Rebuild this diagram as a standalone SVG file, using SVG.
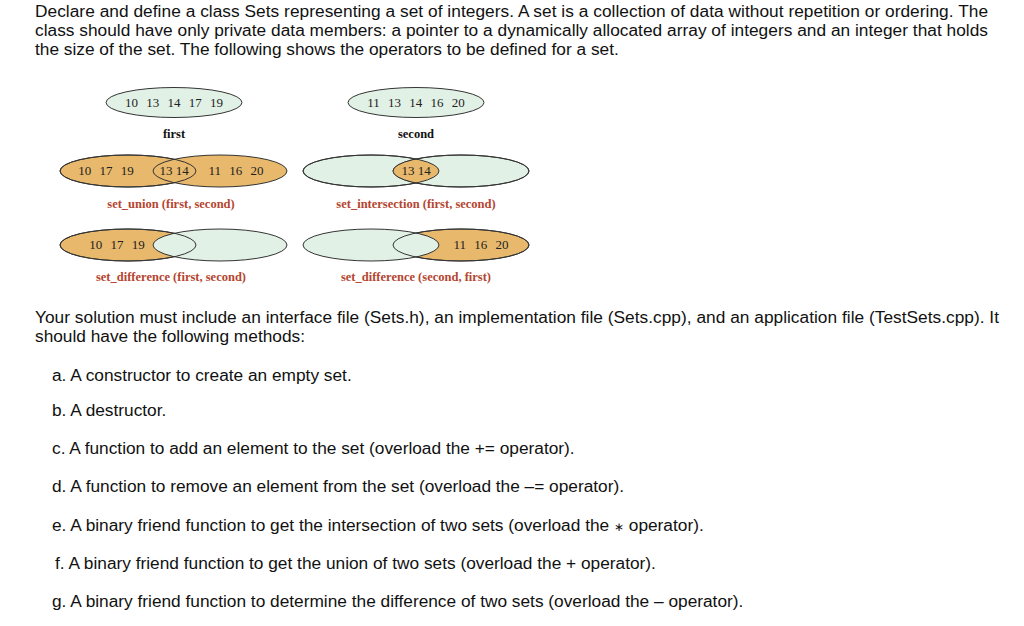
<svg xmlns="http://www.w3.org/2000/svg" width="1024" height="626" viewBox="0 0 1024 626">
<style>
.t{font-family:"Liberation Sans",Arial,sans-serif;font-size:17.3px;fill:#111}
.n{font-family:"Liberation Serif","Times New Roman",serif;font-size:13px;fill:#222;text-anchor:middle}
.lb{font-family:"Liberation Serif","Times New Roman",serif;font-size:12.5px;font-weight:bold;text-anchor:middle}
.g{fill:#e2f1e6;stroke:#333;stroke-width:1}
.o{fill:#e8b96c;stroke:#333;stroke-width:1}
.s{fill:none;stroke:#333;stroke-width:1}
</style>
<defs>
<clipPath id="cI"><ellipse cx="371" cy="171" rx="68" ry="16"/></clipPath>
</defs>
<rect width="1024" height="626" fill="#fff"/>
<text class="t" x="35" y="17" textLength="953">Declare and define a class Sets representing a set of integers. A set is a collection of data without repetition or ordering. The</text>
<text class="t" x="35" y="36" textLength="953">class should have only private data members: a pointer to a dynamically allocated array of integers and an integer that holds</text>
<text class="t" x="35" y="55">the size of the set. The following shows the operators to be defined for a set.</text>
<g id="first"><ellipse class="g" cx="174" cy="102.5" rx="68" ry="15"/><text class="n" x="174" y="107" word-spacing="5">10 13 14 17 19</text><text class="lb" x="174" y="138" fill="#111">first</text></g>
<g id="second"><ellipse class="g" cx="416" cy="102.5" rx="68" ry="15"/><text class="n" x="416" y="107" word-spacing="5">11 13 14 16 20</text><text class="lb" x="416" y="138" fill="#111">second</text></g>
<g id="union"><ellipse class="o" cx="128" cy="171" rx="68" ry="16"/><ellipse class="o" cx="220" cy="171" rx="67" ry="16"/><ellipse class="s" cx="128" cy="171" rx="68" ry="16"/>
<text class="n" x="106" y="175" word-spacing="5">10 17 19</text><text class="n" x="174" y="175">13 14</text><text class="n" x="236" y="175" word-spacing="5">11 16 20</text>
<text class="lb" x="171" y="208" fill="#b5452f">set_union (first, second)</text></g>
<g id="intersection"><ellipse class="g" cx="371" cy="171" rx="68" ry="16"/><ellipse class="g" cx="461" cy="171" rx="68" ry="16"/>
<ellipse fill="#e8b96c" cx="461" cy="171" rx="68" ry="16" clip-path="url(#cI)"/><ellipse class="s" cx="371" cy="171" rx="68" ry="16"/><ellipse class="s" cx="461" cy="171" rx="68" ry="16"/>
<text class="n" x="416" y="175">13 14</text><text class="lb" x="416" y="208" fill="#b5452f">set_intersection (first, second)</text></g>
<g id="diff1"><ellipse class="o" cx="128" cy="245" rx="68" ry="16"/><ellipse class="g" cx="220" cy="245" rx="67" ry="16"/><ellipse class="s" cx="128" cy="245" rx="68" ry="16"/>
<text class="n" x="117" y="249" word-spacing="5">10 17 19</text><text class="lb" x="171" y="281" fill="#b5452f">set_difference (first, second)</text></g>
<g id="diff2"><ellipse class="o" cx="461" cy="245" rx="68" ry="16"/><ellipse class="g" cx="371" cy="245" rx="68" ry="16"/><ellipse class="s" cx="461" cy="245" rx="68" ry="16"/>
<text class="n" x="481" y="249" word-spacing="5">11 16 20</text><text class="lb" x="416" y="281" fill="#b5452f">set_difference (second, first)</text></g>
<text class="t" x="35" y="323" textLength="964">Your solution must include an interface file (Sets.h), an implementation file (Sets.cpp), and an application file (TestSets.cpp). It</text>
<text class="t" x="35" y="342">should have the following methods:</text>
<text class="t" x="52" y="381">a. A constructor to create an empty set.</text>
<text class="t" x="52" y="416">b. A destructor.</text>
<text class="t" x="52" y="454">c. A function to add an element to the set (overload the += operator).</text>
<text class="t" x="52" y="492">d. A function to remove an element from the set (overload the –= operator).</text>
<text class="t" x="52" y="531">e. A binary friend function to get the intersection of two sets (overload the <tspan font-size="12">∗</tspan> operator).</text>
<text class="t" x="55" y="569">f. A binary friend function to get the union of two sets (overload the + operator).</text>
<text class="t" x="52" y="607">g. A binary friend function to determine the difference of two sets (overload the – operator).</text>
</svg>
